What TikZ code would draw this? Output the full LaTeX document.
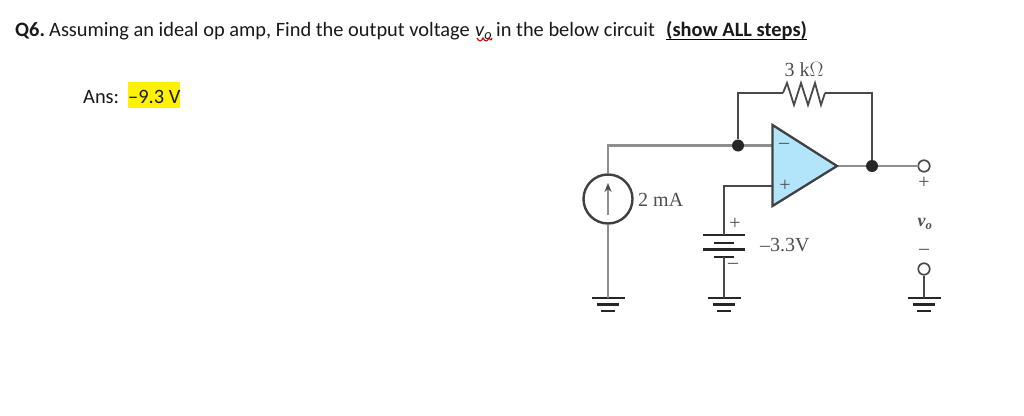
\documentclass[tikz,border=0pt]{standalone}
\usepackage{fontspec}
\setmainfont{Carlito}
\newfontfamily\circfont{Liberation Serif}
\usetikzlibrary{arrows.meta}
\definecolor{wiregray}{HTML}{8E8E8E}
\definecolor{wiredark}{HTML}{4A4A4A}
\definecolor{ampblue}{HTML}{B3E5FA}
\definecolor{labelgray}{HTML}{4F4F4F}
\tikzset{
  x=1pt,y=-1pt,
  body/.style={inner sep=0pt,anchor=base west,font=\fontsize{20.4}{22}\selectfont,text=black!90},
  circ/.style={inner sep=0pt,font=\circfont\fontsize{20}{21}\selectfont,text=labelgray},
  sign/.style={inner sep=0pt,font=\circfont\fontsize{20}{21}\selectfont,text=labelgray},
  wire/.style={draw=wiredark,line width=1.8pt},
  lightwire/.style={draw=wiregray,line width=2.2pt},
  plate/.style={draw=black!85,line width=2.3pt},
  junction/.style={circle,fill=black!85,draw=none,minimum size=12pt,inner sep=0pt},
  terminal/.style={circle,fill=white,draw=wiredark,line width=1.7pt,minimum size=11.5pt,inner sep=0pt},
  sourcering/.style={circle,draw=black!75,line width=2.4pt,minimum size=49pt,inner sep=0pt},
}
\begin{document}
\begin{tikzpicture}
\useasboundingbox (0,0) rectangle (1024,415);
\fill[white] (0,0) rectangle (1024,415);
% title
\node[body,font=\fontsize{20.4}{22}\selectfont\bfseries] (q) at (15,36) {Q6.};
\node[body] (t1) at (49,36) {Assuming an ideal op amp, Find the output voltage};
\node[body,font=\fontsize{20.4}{22}\selectfont\itshape] (vo) at (475,36) {v\textsubscript{o}};
\node[body] (t2) at (496,36) {in the below circuit};
\node[body,font=\fontsize{20.4}{22}\selectfont\bfseries] (t3) at (666,36) {(show ALL steps)};
\draw[black,line width=1.6pt] (666,39.5) -- (807,39.5);
\draw[red!80!black,line width=1.1pt] (477,38) .. controls (479,42) and (481,42) .. (483,38) .. controls (485,42) and (487,42) .. (489,38) .. controls (490,40) and (491,41) .. (492,38);
% answer
\fill[yellow] (128,82) rectangle (180,108);
\node[body] (ans) at (83,103) {Ans:};
\node[body] (ansv) at (128,103) {–9.3 V};
% op amp
\coordinate (ampA) at (772.5,125);
\coordinate (ampB) at (772.5,206);
\coordinate (ampC) at (837,166);
\coordinate (ampN) at (772.5,145.5);
\coordinate (ampP) at (772.5,186);
% junctions and terminals
\node[junction] (j1) at (738,145.5) {};
\node[junction] (j2) at (872,166) {};
\node[terminal] (t+) at (924,166) {};
\node[terminal] (t-) at (924,269) {};
% current source
\node[sourcering] (src) at (608,199) {};
\coordinate (corner) at (608,145.5);
\draw[lightwire] (src.north) -- (corner) -- (j1);
\draw[lightwire] (j1) -- (ampN);
\draw[lightwire] (ampC) -- (j2);
\draw[lightwire] (j2) -- (t+);
\draw[wiregray,line width=1.6pt,-{Stealth[length=9pt,width=7pt,color=black!70]}] (608,215) -- (608,183);
\node[circ,anchor=base west] (ma) at (638,206) {2 mA};
% ground symbols
\coordinate (g1) at (608,298);
\coordinate (g2) at (724,298);
\coordinate (g3) at (924,298);
\foreach \g in {g1,g2,g3}{
  \draw[plate] ([xshift=-16.5pt]\g) -- ([xshift=16.5pt]\g);
  \draw[plate] ([xshift=-11pt,yshift=-6.5pt]\g) -- ([xshift=11pt,yshift=-6.5pt]\g);
  \draw[plate] ([xshift=-7pt,yshift=-13pt]\g) -- ([xshift=7pt,yshift=-13pt]\g);
}
\draw[lightwire] (src.south) -- (g1);
% battery
\coordinate (b1) at (724,235);
\coordinate (b4) at (724,257);
\draw[plate] (703,235) -- (745,235);
\draw[plate] (714,243) -- (734,243);
\draw[plate] (703,249.5) -- (745,249.5);
\draw[plate] (714,257) -- (734,257);
\draw[wire] (b1) |- (ampP);
\draw[wire] (b4) -- (g2);
\node[sign] (bp) at (735,224) {+};
\node[sign] (bm) at (733,266) {–};
\node[circ,anchor=base west] (v33) at (760,251) {–3.3V};
% op-amp body over its input wires
\filldraw[fill=ampblue,draw=black!75,line width=2.3pt,line join=miter] (ampA) -- (ampC) -- (ampB) -- cycle;
\node[sign] (minus) at (784,146) {–};
\node[sign] (plus) at (785,186) {+};
% feedback
\coordinate (r1) at (783,93);
\coordinate (r2) at (825,93);
\draw[wire] (j1) |- (r1);
\draw[wire,line join=miter] (r1) -- (787,83) -- (794,105) -- (801,83) -- (808,105) -- (815,83) -- (821,105) -- (r2);
\draw[wire] (r2) -| (j2);
\node[circ] (rl) at (804,70) {3 k$\Omega$};
% output
\draw[wire] (t-) -- (g3);
\node[sign] (op) at (924,183) {+};
\node[circ,font=\circfont\fontsize{18}{19}\selectfont\bfseries\itshape] (ov) at (925,224) {v\textsubscript{o}};
\node[sign] (om) at (924,252) {–};
\end{tikzpicture}
\end{document}
